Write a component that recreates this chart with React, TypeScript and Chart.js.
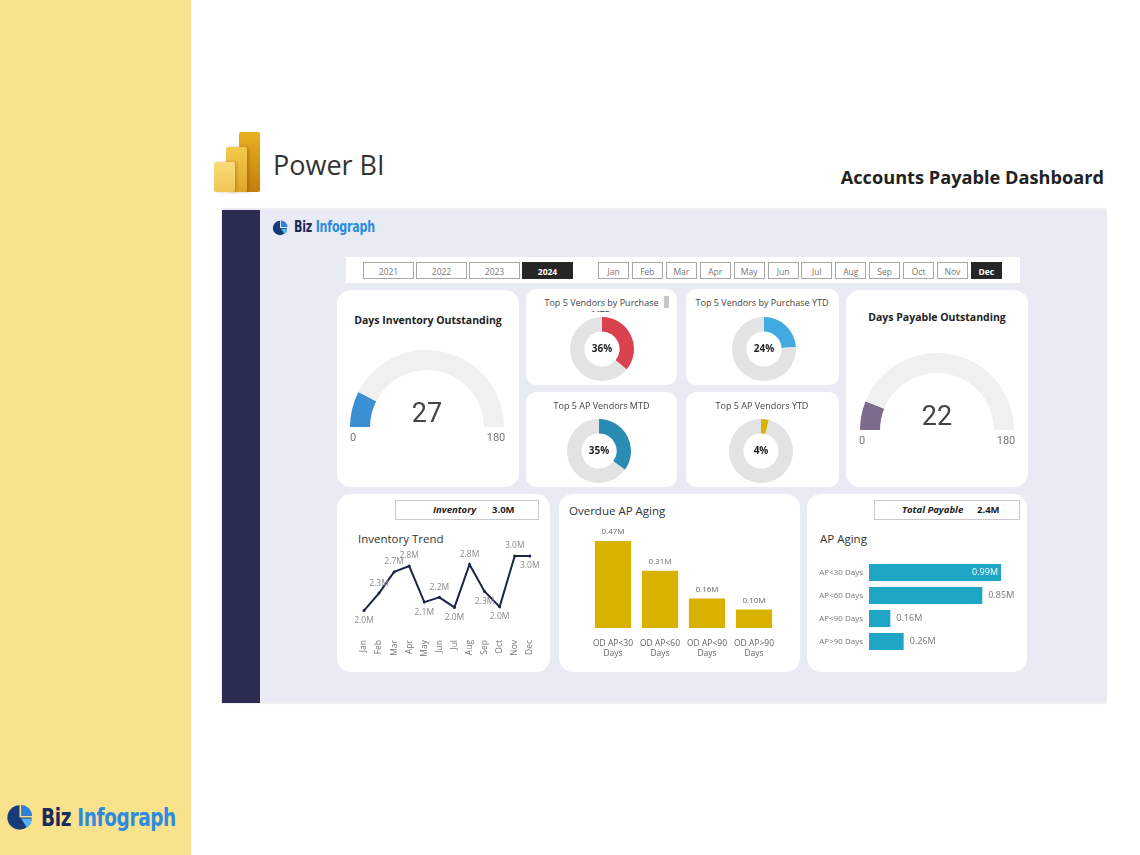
import React, { useEffect, useRef } from "react";
import { Chart, registerables } from "chart.js";

Chart.register(...registerables);

const FONT = "'Open Sans', 'Noto Sans', sans-serif";
Chart.defaults.font.family = FONT;

// ---------- data ----------
const years = ["2021", "2022", "2023", "2024"];
const selectedYear = "2024";
const months = ["Jan", "Feb", "Mar", "Apr", "May", "Jun", "Jul", "Aug", "Sep", "Oct", "Nov", "Dec"];
const selectedMonth = "Dec";

const gaugeMax = 180;
const daysInventoryOutstanding = 27;
const daysPayableOutstanding = 22;

const donutTitles = [
  "Top 5 Vendors by Purchase MTD",
  "Top 5 Vendors by Purchase YTD",
  "Top 5 AP Vendors MTD",
  "Top 5 AP Vendors YTD",
];
const donutShares = [36, 24, 35, 4];
const donutColors = ["#D9424F", "#41AAE0", "#2A8CB4", "#D9B300"];

const trendMonths = ["Jan", "Feb", "Mar", "Apr", "May", "Jun", "Jul", "Aug", "Sep", "Oct", "Nov", "Dec"];
const inventoryTrend = [1.97, 2.3, 2.7, 2.81, 2.13, 2.22, 2.03, 2.84, 2.33, 2.04, 3.0, 3.0];
const inventoryTotal = "3.0M";

const overdueCategories = [
  ["OD AP<30", "Days"],
  ["OD AP<60", "Days"],
  ["OD AP<90", "Days"],
  ["OD AP>90", "Days"],
];
const overdueValues = [0.47, 0.31, 0.16, 0.1];

const apAgingCategories = ["AP<30 Days", "AP<60 Days", "AP<90 Days", "AP>90 Days"];
const apAgingValues = [0.99, 0.85, 0.16, 0.26];
const totalPayable = "2.4M";

// ---------- helpers ----------
type CSS = React.CSSProperties;

function ChartBox({ style, make }: { style: CSS; make: () => any }) {
  const ref = useRef<HTMLCanvasElement>(null);
  useEffect(() => {
    const chart = new Chart(ref.current as HTMLCanvasElement, make());
    return () => chart.destroy();
  }, []);
  return (
    <div style={{ position: "absolute", ...style }}>
      <canvas ref={ref} />
    </div>
  );
}

function T({
  l,
  t,
  w,
  h = 16,
  size = 10,
  color = "#333",
  weight = 400,
  align = "left",
  italic = false,
  family = FONT,
  children,
  style,
}: any) {
  return (
    <div
      style={{
        position: "absolute",
        left: l,
        top: t,
        width: w,
        height: h,
        lineHeight: h + "px",
        fontSize: size,
        color,
        fontWeight: weight,
        textAlign: align,
        fontStyle: italic ? "italic" : "normal",
        fontFamily: family,
        whiteSpace: "nowrap",
        ...style,
      }}
    >
      {children}
    </div>
  );
}

const baseOpts = {
  animation: false,
  responsive: true,
  maintainAspectRatio: false,
  plugins: { legend: { display: false }, tooltip: { enabled: false } },
};

function gaugeConfig(value: number, color: string) {
  return {
    type: "doughnut",
    data: {
      labels: ["Value", "Remaining"],
      datasets: [
        {
          data: [value, gaugeMax - value],
          backgroundColor: [color, "#F1F0F0"],
          borderWidth: 0,
          hoverOffset: 0,
        },
      ],
    },
    options: { ...baseOpts, rotation: -90, circumference: 180, cutout: "74%", layout: { padding: 0 } },
  };
}

function donutConfig(share: number, color: string) {
  return {
    type: "doughnut",
    data: {
      labels: ["Top 5", "Others"],
      datasets: [
        {
          data: [share, 100 - share],
          backgroundColor: [color, "#E3E3E3"],
          borderWidth: 0,
          hoverOffset: 0,
        },
      ],
    },
    options: { ...baseOpts, cutout: "55%", layout: { padding: 0 } },
    plugins: [
      {
        id: "centerText",
        afterDraw(chart: any) {
          const { ctx, chartArea } = chart;
          ctx.save();
          ctx.font = `bold 10px ${FONT}`;
          ctx.fillStyle = "#222";
          ctx.textAlign = "center";
          ctx.textBaseline = "middle";
          ctx.fillText(share + "%", (chartArea.left + chartArea.right) / 2, (chartArea.top + chartArea.bottom) / 2 + 0.5);
          ctx.restore();
        },
      },
    ],
  };
}

function lineConfig() {
  return {
    type: "line",
    data: {
      labels: trendMonths,
      datasets: [
        {
          data: inventoryTrend,
          borderColor: "#1B2547",
          borderWidth: 2,
          pointRadius: 1.5,
          pointBackgroundColor: "#1B2547",
          pointBorderWidth: 0,
          tension: 0,
        },
      ],
    },
    options: {
      ...baseOpts,
      layout: { padding: { left: 10, right: 10, top: 10, bottom: 0 } },
      scales: {
        x: {
          grid: { display: false },
          border: { display: false },
          ticks: {
            minRotation: 90,
            maxRotation: 90,
            autoSkip: false,
            padding: 5,
            color: "#777",
            font: { size: 8.5 },
          },
          afterFit: (s: any) => {
            s.height = 35;
          },
        },
        y: { display: false, min: 1.66, max: 3.113 },
      },
    },
    plugins: [
      {
        id: "lineLabels",
        afterDatasetsDraw(chart: any) {
          const { ctx } = chart;
          const meta = chart.getDatasetMeta(0);
          ctx.save();
          ctx.font = `8.5px ${FONT}`;
          ctx.fillStyle = "#8A8A8A";
          ctx.textAlign = "center";
          ctx.textBaseline = "middle";
          meta.data.forEach((pt: any, i: number) => {
            const v = inventoryTrend[i];
            const prev = i > 0 ? inventoryTrend[i - 1] : Infinity;
            const above = v > prev;
            ctx.fillText(v.toFixed(1) + "M", pt.x, above ? pt.y - 10 : pt.y + 10);
          });
          ctx.restore();
        },
      },
    ],
  };
}

function columnConfig() {
  return {
    type: "bar",
    data: {
      labels: overdueCategories,
      datasets: [
        {
          data: overdueValues,
          backgroundColor: "#D9B200",
          barPercentage: 0.77,
          categoryPercentage: 1,
        },
      ],
    },
    options: {
      ...baseOpts,
      layout: { padding: { left: 9.5, right: 10.5, top: 10, bottom: 0 } },
      scales: {
        x: {
          grid: { display: false },
          border: { display: false },
          ticks: { color: "#666", font: { size: 8.5 }, padding: 2, maxRotation: 0, autoSkip: false },
          afterFit: (s: any) => {
            s.height = 37;
          },
        },
        y: { display: false, min: 0, max: 0.53 },
      },
    },
    plugins: [
      {
        id: "colLabels",
        afterDatasetsDraw(chart: any) {
          const { ctx } = chart;
          const meta = chart.getDatasetMeta(0);
          ctx.save();
          ctx.font = `8px ${FONT}`;
          ctx.fillStyle = "#666";
          ctx.textAlign = "center";
          ctx.textBaseline = "middle";
          meta.data.forEach((bar: any, i: number) => {
            ctx.fillText(overdueValues[i].toFixed(2) + "M", bar.x, bar.y - 9);
          });
          ctx.restore();
        },
      },
    ],
  };
}

function hbarConfig() {
  return {
    type: "bar",
    data: {
      labels: apAgingCategories,
      datasets: [
        {
          data: apAgingValues,
          backgroundColor: "#1FA5C6",
          barPercentage: 0.74,
          categoryPercentage: 1,
        },
      ],
    },
    options: {
      ...baseOpts,
      indexAxis: "y",
      layout: { padding: { left: 54, right: 5, top: 0, bottom: 0 } },
      scales: {
        x: { display: false, min: 0, max: 1.095 },
        y: { display: false },
      },
    },
    plugins: [
      {
        id: "hbarLabels",
        afterDatasetsDraw(chart: any) {
          const { ctx, chartArea } = chart;
          const meta = chart.getDatasetMeta(0);
          ctx.save();
          ctx.textBaseline = "middle";
          meta.data.forEach((bar: any, i: number) => {
            ctx.font = `8px ${FONT}`;
            ctx.fillStyle = "#777";
            ctx.textAlign = "right";
            ctx.fillText(apAgingCategories[i], chartArea.left - 6, bar.y);
            ctx.font = `9px ${FONT}`;
            const txt = apAgingValues[i].toFixed(2) + "M";
            const w = ctx.measureText(txt).width;
            if (bar.x + 6 + w > chartArea.right + 2) {
              ctx.fillStyle = "#fff";
              ctx.textAlign = "right";
              ctx.fillText(txt, bar.x - 3, bar.y);
            } else {
              ctx.fillStyle = "#777";
              ctx.textAlign = "left";
              ctx.fillText(txt, bar.x + 6, bar.y);
            }
          });
          ctx.restore();
        },
      },
    ],
  };
}

function BizIcon({ size }: { size: number }) {
  return (
    <svg width={size} height={size} viewBox="0 0 20 20">
      <path d="M10 10 L10 1 A9 9 0 1 0 19 10 Z" fill="#173A7A" />
      <path d="M11.2 8.8 L11.2 0.6 A8.6 8.6 0 0 1 19.4 8.8 Z" fill="#2E7FD8" />
      <path d="M11.2 10.8 L19.2 10.8 A8.4 8.4 0 0 1 15.5 17.6 Z" fill="#57B2F0" />
    </svg>
  );
}

const card: CSS = { position: "absolute", background: "#fff", borderRadius: 14 };

const btn = (selected: boolean): CSS => ({
  position: "absolute",
  top: 262,
  height: 17,
  lineHeight: "17px",
  border: selected ? "1px solid #2A2A2A" : "1px solid #A8A8A8",
  background: selected ? "#262626" : "#fff",
  color: selected ? "#fff" : "#777",
  fontSize: 8.5,
  fontWeight: selected ? 700 : 400,
  textAlign: "center",
  fontFamily: FONT,
  boxSizing: "border-box",
});

const LOGO_FONT = "'DejaVu Sans', sans-serif";

export default function App() {
  const donutPos = [
    { l: 570, t: 317, cx: 601.5, ty: 303 },
    { l: 732, t: 317, cx: 762, ty: 303 },
    { l: 567, t: 419, cx: 601.5, ty: 406 },
    { l: 729, t: 419, cx: 762, ty: 406 },
  ];
  return (
    <div
      style={{
        position: "absolute",
        left: 0,
        top: 0,
        width: 1140,
        height: 855,
        background: "#fff",
        overflow: "hidden",
        fontFamily: FONT,
      }}
    >
      {/* left yellow band */}
      <div style={{ position: "absolute", left: 0, top: 0, width: 191, height: 855, background: "#F9E28C" }} />
      <div style={{ position: "absolute", left: 6, top: 804 }}>
        <BizIcon size={27} />
      </div>
      <T
        l={41}
        t={803}
        h={30}
        size={25}
        weight={700}
        color="#1B2A5C"
        family={LOGO_FONT}
        style={{ transform: "scaleX(0.74)", transformOrigin: "left center", letterSpacing: -0.5 }}
      >
        Biz <span style={{ color: "#2C8BE0" }}>Infograph</span>
      </T>

      {/* Power BI logo */}
      <div style={{ position: "absolute", left: 239, top: 132, width: 21, height: 60, borderRadius: 2, background: "linear-gradient(180deg,#E9B022,#C47E0C)" }} />
      <div style={{ position: "absolute", left: 226, top: 147, width: 21, height: 45, borderRadius: 2, background: "linear-gradient(180deg,#F3CB4C,#E0A52A)", boxShadow: "2px 0 3px rgba(120,70,0,0.35)" }} />
      <div style={{ position: "absolute", left: 214, top: 162, width: 21, height: 30, borderRadius: 2, background: "linear-gradient(180deg,#F8DC7A,#F0C654)", boxShadow: "2px 0 3px rgba(120,70,0,0.3)" }} />
      <T l={273} t={148} h={34} size={27} color="#333" weight={400}>
        Power BI
      </T>
      <T l={740} t={165} w={364} h={24} size={18.2} weight={700} color="#222" align="right">
        Accounts Payable Dashboard
      </T>

      {/* dashboard frame */}
      <div style={{ position: "absolute", left: 222, top: 209, width: 884, height: 494, background: "#E8EBF4", boxShadow: "0 0 2px rgba(0,0,0,0.2)" }} />
      <div style={{ position: "absolute", left: 222, top: 210, width: 38, height: 493, background: "#2B2C52" }} />
      <div style={{ position: "absolute", left: 272, top: 219 }}>
        <BizIcon size={16} />
      </div>
      <T
        l={294}
        t={218}
        h={18}
        size={15}
        weight={700}
        color="#1B2A5C"
        family={LOGO_FONT}
        style={{ transform: "scaleX(0.74)", transformOrigin: "left center", letterSpacing: -0.3 }}
      >
        Biz <span style={{ color: "#2C8BE0" }}>Infograph</span>
      </T>

      {/* filter bar */}
      <div style={{ position: "absolute", left: 346, top: 257, width: 674, height: 26, background: "#fff" }} />
      {years.map((y, i) => (
        <div key={y} style={{ ...btn(y === selectedYear), left: 363 + i * 53, width: 51 }}>
          {y}
        </div>
      ))}
      {months.map((m, i) => (
        <div key={m} style={{ ...btn(m === selectedMonth), left: 598 + i * 33.9, width: 31 }}>
          {m}
        </div>
      ))}

      {/* DIO card */}
      <div style={{ ...card, left: 337, top: 290, width: 182, height: 197 }} />
      <T l={337} t={312} w={182} size={10.5} weight={700} color="#222" align="center">
        Days Inventory Outstanding
      </T>
      <ChartBox style={{ left: 350, top: 350, width: 154, height: 77 }} make={() => gaugeConfig(daysInventoryOutstanding, "#3A90D2")} />
      <T l={377} t={397} w={100} h={32} size={27} color="#444" align="center" family="Roboto, sans-serif">
        {daysInventoryOutstanding}
      </T>
      <T l={333} t={430} w={40} size={11} color="#777" align="center" family="Roboto, sans-serif">
        0
      </T>
      <T l={476} t={430} w={40} size={11} color="#777" align="center" family="Roboto, sans-serif">
        {gaugeMax}
      </T>

      {/* DPO card */}
      <div style={{ ...card, left: 846, top: 290, width: 182, height: 197 }} />
      <T l={846} t={309} w={182} size={10.5} weight={700} color="#222" align="center">
        Days Payable Outstanding
      </T>
      <ChartBox style={{ left: 860, top: 353, width: 154, height: 77 }} make={() => gaugeConfig(daysPayableOutstanding, "#7D6B8B")} />
      <T l={887} t={400} w={100} h={32} size={27} color="#444" align="center" family="Roboto, sans-serif">
        {daysPayableOutstanding}
      </T>
      <T l={842} t={433} w={40} size={11} color="#777" align="center" family="Roboto, sans-serif">
        0
      </T>
      <T l={986} t={433} w={40} size={11} color="#777" align="center" family="Roboto, sans-serif">
        {gaugeMax}
      </T>

      {/* donut cards */}
      <div style={{ ...card, left: 526, top: 289, width: 151, height: 96, borderRadius: 10 }} />
      <div style={{ ...card, left: 686, top: 289, width: 153, height: 96, borderRadius: 10 }} />
      <div style={{ ...card, left: 526, top: 392, width: 151, height: 95, borderRadius: 10 }} />
      <div style={{ ...card, left: 686, top: 392, width: 153, height: 95, borderRadius: 10 }} />
      {donutTitles.map((title, i) => {
        const p = donutPos[i];
        const wrap = i === 0;
        return (
          <div
            key={title}
            style={{
              position: "absolute",
              left: wrap ? p.cx - 62 : p.cx - 75,
              top: p.ty - 6,
              width: wrap ? 124 : 150,
              height: wrap ? 15 : 13,
              overflow: "hidden",
              fontSize: 9,
              lineHeight: "12px",
              color: "#444",
              textAlign: "center",
              whiteSpace: wrap ? "normal" : "nowrap",
              fontFamily: FONT,
            }}
          >
            {title}
          </div>
        );
      })}
      <div style={{ position: "absolute", left: 664, top: 296, width: 5, height: 12, background: "#C6C6C6" }} />
      {donutShares.map((s, i) => (
        <ChartBox
          key={i}
          style={{ left: donutPos[i].l, top: donutPos[i].t, width: 64, height: 64 }}
          make={() => donutConfig(s, donutColors[i])}
        />
      ))}

      {/* Inventory trend card */}
      <div style={{ ...card, left: 337, top: 494, width: 213, height: 178 }} />
      <div style={{ position: "absolute", left: 395, top: 500, width: 144, height: 20, border: "1px solid #C9C9C9", boxSizing: "border-box", background: "#fff" }} />
      <T l={433} t={502} h={16} size={9.5} weight={700} italic color="#222">
        Inventory
      </T>
      <T l={492} t={502} h={16} size={9.5} weight={700} color="#222">
        {inventoryTotal}
      </T>
      <T l={358} t={530} h={18} size={11.5} color="#333">
        Inventory Trend
      </T>
      <ChartBox style={{ left: 354, top: 540, width: 191, height: 122 }} make={lineConfig} />

      {/* Overdue AP Aging card */}
      <div style={{ ...card, left: 559, top: 494, width: 241, height: 178 }} />
      <T l={569} t={502} h={18} size={11.5} color="#333">
        Overdue AP Aging
      </T>
      <ChartBox style={{ left: 580, top: 520, width: 208, height: 145 }} make={columnConfig} />

      {/* AP Aging card */}
      <div style={{ ...card, left: 807, top: 494, width: 220, height: 178 }} />
      <div style={{ position: "absolute", left: 874, top: 500, width: 146, height: 20, border: "1px solid #C9C9C9", boxSizing: "border-box", background: "#fff" }} />
      <T l={902} t={502} h={16} size={9.5} weight={700} italic color="#222">
        Total Payable
      </T>
      <T l={977} t={502} h={16} size={9.5} weight={700} color="#222">
        {totalPayable}
      </T>
      <T l={820} t={530} h={18} size={11.5} color="#333">
        AP Aging
      </T>
      <ChartBox style={{ left: 815, top: 561, width: 205, height: 92 }} make={hbarConfig} />
    </div>
  );
}
